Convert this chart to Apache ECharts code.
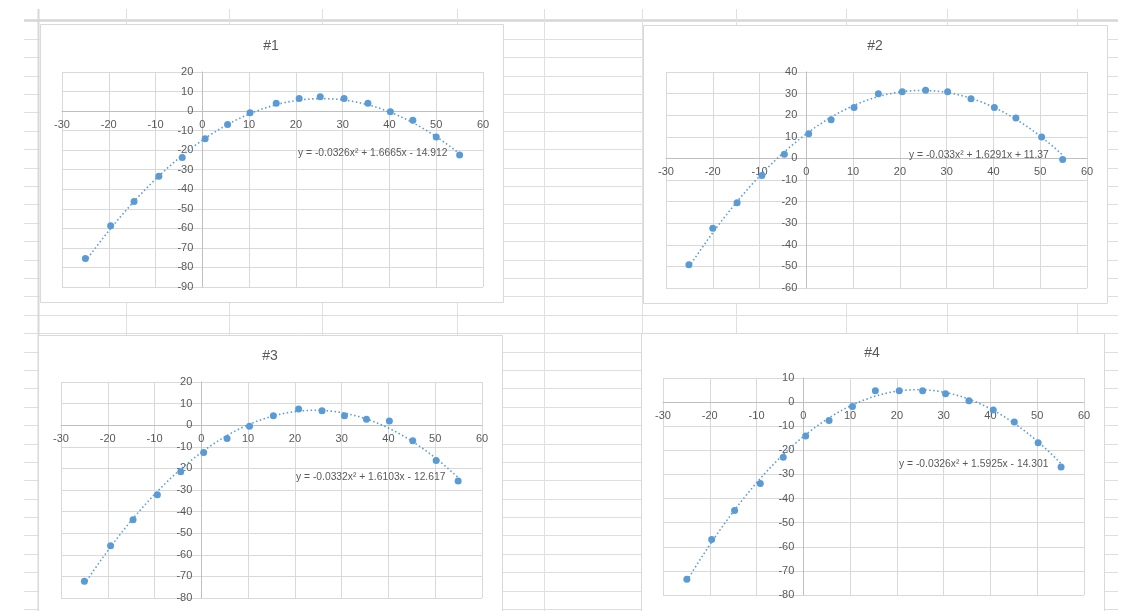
<!DOCTYPE html>
<html>
<head>
<meta charset="utf-8">
<script src="https://cdn.jsdelivr.net/npm/echarts@6/dist/echarts.min.js"></script>
<style>html,body{margin:0;padding:0;background:#fff;}#c{width:1135px;height:611px;}</style>
</head>
<body>
<div id="c"></div>
<script>
// ---- data ----
const titles = ['#1', '#2', '#3', '#4'];
const xs1 = [-25, -19.6, -14.6, -9.3, -4.3, 0.6, 5.4, 10.2, 15.8, 20.7, 25.2, 30.3, 35.4, 40.2, 45, 50, 55];
const ys1 = [-75.4, -58.7, -46.3, -33.4, -23.7, -14.2, -6.9, -0.9, 4.0, 6.4, 7.4, 6.4, 4.0, -0.4, -4.7, -13.2, -22.5];
const xs2 = [-25.1, -20, -14.8, -9.5, -4.7, 0.5, 5.3, 10.2, 15.4, 20.5, 25.5, 30.2, 35.2, 40.2, 44.8, 50.3, 54.8];
const ys2 = [-49.2, -32.3, -20.5, -7.9, 1.9, 11.4, 17.9, 23.6, 29.9, 30.9, 31.6, 30.9, 27.6, 23.6, 18.7, 9.9, -0.5];
const xs3 = [-25, -19.4, -14.6, -9.4, -4.4, 0.5, 5.5, 10.3, 15.4, 20.8, 25.8, 30.6, 35.3, 40.2, 45.2, 50.2, 54.9];
const ys3 = [-72.3, -55.8, -43.8, -32.2, -21.5, -12.6, -6.2, -0.5, 4.4, 7.5, 6.7, 4.4, 2.7, 1.9, -7.2, -16.4, -25.8];
const xs4 = [-24.9, -19.6, -14.7, -9.2, -4.3, 0.5, 5.5, 10.5, 15.4, 20.5, 25.5, 30.4, 35.4, 40.6, 45.1, 50.2, 55.1];
const ys4 = [-73.5, -57, -45, -33.8, -22.9, -14.1, -7.6, -1.8, 4.7, 4.7, 4.7, 3.5, 0.6, -3.3, -8.2, -16.9, -26.9];
// trendline coefficients (a, b, c) as printed on each chart
const coef1 = [-0.0326, 1.6665, -14.912];
const coef2 = [-0.033, 1.6291, 11.37];
const coef3 = [-0.0332, 1.6103, -12.617];
const coef4 = [-0.0326, 1.5925, -14.301];
const equations = [
  'y = -0.0326x² + 1.6665x - 14.912',
  'y = -0.033x² + 1.6291x + 11.37',
  'y = -0.0332x² + 1.6103x - 12.617',
  'y = -0.0326x² + 1.5925x - 14.301'
];
// axis ranges
const xMin = -30, xMax = 60;
const yMins = [-90, -60, -80, -80];
const yMaxs = [20, 40, 20, 10];

// ---- layout ----
const FONT = 'Liberation Sans';
const TXT = '#595959';
const BLUE = '#5B9BD5';
const grids = [
  {left: 62, top: 72, width: 421, height: 215},
  {left: 666, top: 72, width: 421, height: 216},
  {left: 61, top: 382, width: 421, height: 216},
  {left: 663, top: 378, width: 421, height: 217}
];
const boxes = [
  {x: 40, y: 24, w: 463, h: 278},
  {x: 643, y: 25, w: 464, h: 278},
  {x: 38, y: 335, w: 464, h: 290},
  {x: 641, y: 333, w: 463, h: 290}
];
const titlePos = [[271, 46], [875, 46], [270, 356], [872, 353]];
const eqPos = [[298, 153], [909, 155], [296, 477], [899, 464]];

const sets = [[xs1, ys1, coef1], [xs2, ys2, coef2], [xs3, ys3, coef3], [xs4, ys4, coef4]];

function trend(xs, c) {
  const lo = Math.min(...xs), hi = Math.max(...xs);
  const out = [];
  const n = 120;
  for (let i = 0; i <= n; i++) {
    const x = lo + (hi - lo) * i / n;
    out.push([x, c[0] * x * x + c[1] * x + c[2]]);
  }
  return out;
}

// spreadsheet background
const graphics = [];
const colX = [38, 126, 229, 322, 457, 544, 642, 736, 846, 947, 1077];
for (let k = 0; k < 33; k++) {
  const y = Math.round(20.3 + 18.4 * k) + 0.5;
  if (y > 611) break;
  graphics.push({type: 'line', z: -20, silent: true,
    shape: {x1: 24, y1: y, x2: 1118, y2: y},
    style: {stroke: k === 0 ? '#d6d6d6' : '#dedede', lineWidth: k === 0 ? 2.5 : 1}});
}
colX.forEach(x => {
  graphics.push({type: 'line', z: -20, silent: true,
    shape: {x1: x + 0.5, y1: 9, x2: x + 0.5, y2: 611},
    style: {stroke: x === 38 ? '#d8d8d8' : '#e0e0e0', lineWidth: x === 38 ? 2 : 1}});
});
boxes.forEach(b => {
  graphics.push({type: 'rect', z: -10, silent: true,
    shape: {x: b.x + 0.5, y: b.y + 0.5, width: b.w, height: b.h},
    style: {fill: '#ffffff', stroke: '#d9d9d9', lineWidth: 1}});
});
titles.forEach((t, i) => {
  graphics.push({type: 'text', z: 5, x: titlePos[i][0], y: titlePos[i][1],
    style: {text: t, align: 'center', verticalAlign: 'middle', fill: TXT,
      fontSize: 14, fontFamily: FONT}});
});
equations.forEach((t, i) => {
  graphics.push({type: 'text', z: 5, x: eqPos[i][0], y: eqPos[i][1],
    style: {text: t, align: 'left', verticalAlign: 'middle', fill: TXT,
      fontSize: 10.3, fontFamily: FONT}});
});

const xAxes = [], yAxes = [], series = [];
sets.forEach((s, i) => {
  const g = grids[i];
  // place each axis through the other axis's zero, as Excel does
  const xOff = -g.height * (0 - yMins[i]) / (yMaxs[i] - yMins[i]);
  const yOff = -g.width * (0 - xMin) / (xMax - xMin);
  xAxes.push({
    type: 'value', gridIndex: i, min: xMin, max: xMax, interval: 10,
    position: 'bottom', offset: xOff,
    axisLine: {onZero: false, lineStyle: {color: '#bfbfbf', width: 1}},
    axisTick: {show: false},
    axisLabel: {color: TXT, fontSize: 11, fontFamily: FONT, margin: 8,
      showMinLabel: true, showMaxLabel: true, hideOverlap: false},
    splitLine: {show: true, lineStyle: {color: '#d9d9d9', width: 1}}
  });
  yAxes.push({
    type: 'value', gridIndex: i, min: yMins[i], max: yMaxs[i], interval: 10,
    position: 'left', offset: yOff,
    axisLine: {onZero: false, lineStyle: {color: '#bfbfbf', width: 1}},
    axisTick: {show: false},
    axisLabel: {color: TXT, fontSize: 11, fontFamily: FONT, margin: 9,
      showMinLabel: true, showMaxLabel: true, hideOverlap: false},
    splitLine: {show: true, lineStyle: {color: '#d9d9d9', width: 1}}
  });
  series.push({
    type: 'line', xAxisIndex: i, yAxisIndex: i, data: trend(s[0], s[2]),
    showSymbol: false, silent: true, z: 2,
    lineStyle: {color: BLUE, width: 1.6, type: [1.5, 2.5]}
  });
  series.push({
    type: 'scatter', xAxisIndex: i, yAxisIndex: i,
    data: s[0].map((x, j) => [x, s[1][j]]),
    symbol: 'circle', symbolSize: 7, z: 3,
    itemStyle: {color: BLUE, opacity: 1}
  });
});

const chart = echarts.init(document.getElementById('c'), null, {renderer: 'canvas'});
chart.setOption({
  backgroundColor: '#ffffff',
  animation: false,
  grid: grids.map(g => Object.assign({containLabel: false, show: false}, g)),
  xAxis: xAxes,
  yAxis: yAxes,
  series: series,
  graphic: graphics
});
</script>
</body>
</html>
